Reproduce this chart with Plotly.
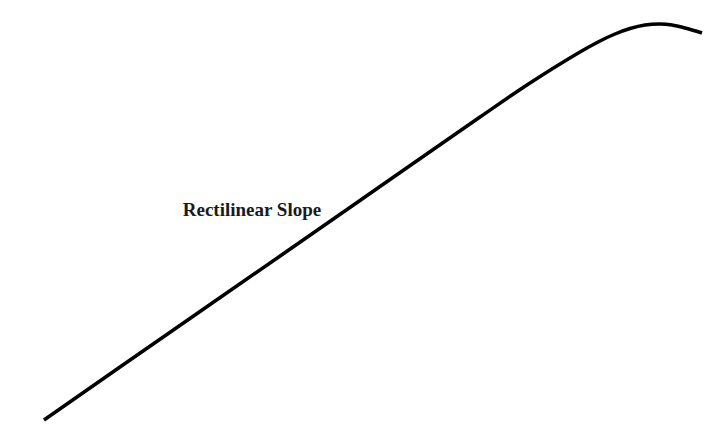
import plotly.graph_objects as go

# curve, in page pixels (y grows downward)
curve_x = [44, 120, 200, 283, 380, 480, 530, 580, 600, 615, 630, 645, 660, 672, 685, 702]
curve_y = [420, 367, 311.5, 254, 186.5, 117, 83, 52, 41, 34, 28.5, 25, 24, 25, 28, 33]

label_text = ['Rectilinear Slope']
label_x = [252]
label_y = [211]

# page body has an 8px margin, shift the axis window to compensate
off = 8

fig = go.Figure()
fig.add_trace(go.Scatter(x=curve_x, y=curve_y, mode='lines',
                         line=dict(color='black', width=3.5, shape='spline', smoothing=1.0),
                         hoverinfo='skip', showlegend=False))
fig.add_trace(go.Scatter(x=label_x, y=label_y, mode='text', text=label_text,
                         textfont=dict(family='Liberation Serif', size=19, color='#1a1a1a'),
                         texttemplate='<b>%{text}</b>', hoverinfo='skip', showlegend=False))

fig.update_layout(width=719, height=435, margin=dict(l=0, r=0, t=0, b=0),
                  paper_bgcolor='white', plot_bgcolor='white',
                  xaxis=dict(range=[off, 719 + off], visible=False),
                  yaxis=dict(range=[435 + off, off], visible=False))
fig.write_html('out.html')
